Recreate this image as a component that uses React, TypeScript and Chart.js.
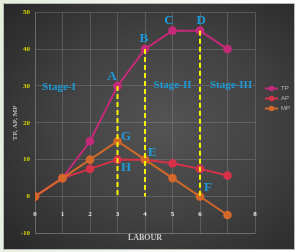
import React, { useEffect, useRef } from "react";
import { Chart, registerables } from "chart.js";
Chart.register(...registerables);

// ---- data ----
const labour = [0, 1, 2, 3, 4, 5, 6, 7];
const tp = [0, 5, 15, 30, 40, 45, 45, 40];
const ap = [0, 5, 7.5, 10, 10, 9, 7.5, 5.7];
const mp = [0, 5, 10, 15, 10, 5, 0, -5];
const seriesNames = ["TP", "AP", "MP"];
const xTicks = [0, 1, 2, 3, 4, 5, 6, 7, 8];
const yTicks = [-10, 0, 10, 20, 30, 40, 50];

// dashed guide lines (labour value, top value, down to 0)
const guideX = [3, 4, 6];
const guideTop = [30, 40, 45];

// point letters
const letters = ["A", "B", "C", "D", "G", "H", "E", "F"];
const letterX = [2.8, 3.96, 4.87, 6.04, 3.31, 3.31, 4.27, 6.29];
const letterY = [32.6, 42.8, 47.8, 47.8, 16.2, 7.8, 11.9, 2.3];

// stage labels
const stages = ["Stage-I", "Stage-II", "Stage-III"];
const stageX = [0.87, 5.0, 7.13];
const stageY = [29.6, 30.3, 30.3];

const SERIF = "'Liberation Serif', 'DejaVu Serif', serif";
const GRID = "rgba(150,150,150,0.35)";
const COLORS = ["#c42a78", "#d8324a", "#d2682a"];
const BLUE = "#1e9ad6";

function makeMarker(color: string) {
  const c = document.createElement("canvas");
  c.width = 19;
  c.height = 7;
  const g = c.getContext("2d")!;
  g.strokeStyle = color;
  g.lineWidth = 2;
  g.beginPath();
  g.moveTo(6, 3.5);
  g.lineTo(19, 3.5);
  g.stroke();
  g.fillStyle = color;
  g.beginPath();
  g.arc(12.5, 3.5, 2.8, 0, Math.PI * 2);
  g.fill();
  return c;
}

const legendShift = {
  id: "legendShift",
  afterLayout(chart: any) {
    const lg = chart.legend;
    if (lg) {
      lg.top -= 30;
      lg.bottom -= 30;
    }
  },
};

const overlayPlugin = {
  id: "overlay",
  afterDatasetsDraw(chart: any) {
    const { ctx, scales } = chart;
    const xs = scales.x;
    const ys = scales.y;
    ctx.save();
    ctx.strokeStyle = "#f5f500";
    ctx.lineWidth = 2;
    ctx.setLineDash([5, 3]);
    guideX.forEach((gx, i) => {
      const px = xs.getPixelForValue(gx);
      ctx.beginPath();
      ctx.moveTo(px, ys.getPixelForValue(guideTop[i]));
      ctx.lineTo(px, ys.getPixelForValue(0));
      ctx.stroke();
    });
    ctx.setLineDash([]);
    ctx.fillStyle = BLUE;
    ctx.textAlign = "center";
    ctx.textBaseline = "middle";
    ctx.font = `bold 13px ${SERIF}`;
    letters.forEach((t, i) => {
      ctx.fillText(t, xs.getPixelForValue(letterX[i]), ys.getPixelForValue(letterY[i]));
    });
    ctx.font = `bold 11px ${SERIF}`;
    stages.forEach((t, i) => {
      ctx.fillText(t, xs.getPixelForValue(stageX[i]), ys.getPixelForValue(stageY[i]));
    });
    ctx.restore();
  },
};

export default function App() {
  const ref = useRef<HTMLCanvasElement>(null);
  useEffect(() => {
    const markers = COLORS.map(makeMarker);
    const series = [tp, ap, mp];
    const chart = new Chart(ref.current!, {
      type: "line",
      data: {
        datasets: series.map((s, i) => ({
          label: seriesNames[i],
          data: labour.map((l, j) => ({ x: l, y: s[j] })),
          borderColor: COLORS[i],
          backgroundColor: COLORS[i],
          pointBackgroundColor: COLORS[i],
          pointBorderColor: COLORS[i],
          pointRadius: 3.3,
          borderWidth: 2,
          order: 3 - i,
        })),
      },
      options: {
        animation: false,
        responsive: false,
        maintainAspectRatio: false,
        layout: { padding: { top: 7, right: 0, left: 0, bottom: 3 } },
        plugins: {
          tooltip: { enabled: false },
          legend: {
            position: "right",
            maxWidth: 40,
            labels: {
              usePointStyle: true,
              pointStyleWidth: 19,
              padding: 4,
              color: "#b4b4b4",
              font: { size: 6, family: "'Liberation Sans', sans-serif" },
              generateLabels: (ch: any) =>
                ch.data.datasets.map((ds: any, i: number) => ({
                  text: ds.label,
                  fillStyle: ds.borderColor,
                  strokeStyle: ds.borderColor,
                  lineWidth: 0,
                  pointStyle: markers[i],
                  datasetIndex: i,
                  hidden: false,
                  fontColor: "#b4b4b4",
                })),
            },
          },
        },
        scales: {
          x: {
            type: "linear",
            min: 0,
            max: 8,
            position: "bottom",
            afterBuildTicks: (s: any) => {
              s.ticks = xTicks.map((v) => ({ value: v }));
            },
            ticks: { display: false },
            grid: { color: GRID, drawTicks: false },
            border: { color: GRID },
            title: {
              display: true,
              text: "LABOUR",
              color: "#c8c8c8",
              font: { family: SERIF, size: 8, weight: "bold" },
              padding: { top: 0, bottom: 4 },
            },
          },
          x2: {
            type: "linear",
            min: 0,
            max: 8,
            position: { y: 0 },
            afterBuildTicks: (s: any) => {
              s.ticks = xTicks.map((v) => ({ value: v }));
            },
            grid: { display: false },
            border: { display: false },
            ticks: {
              color: "#e8e8e8",
              padding: 5,
              font: { family: SERIF, size: 7, weight: "bold" },
            },
          },
          y: {
            type: "linear",
            min: -10,
            max: 50,
            afterBuildTicks: (s: any) => {
              s.ticks = yTicks.map((v) => ({ value: v }));
            },
            afterFit: (s: any) => {
              s.width = 32;
            },
            ticks: {
              color: "#d8d800",
              padding: 5,
              font: { family: SERIF, size: 7, weight: "bold" },
            },
            grid: { color: GRID, drawTicks: false },
            border: { color: GRID },
            title: {
              display: true,
              text: "TP, AP, MP",
              color: "#bcbcbc",
              font: { family: SERIF, size: 7, weight: "bold" },
              padding: { top: 8, bottom: 0 },
            },
          },
        },
      } as any,
      plugins: [legendShift, overlayPlugin],
    });
    return () => chart.destroy();
  }, []);

  return (
    <div
      style={{
        position: "fixed",
        left: 0,
        top: 0,
        width: 300,
        height: 252,
        background: "linear-gradient(100deg, #e4eedb 0%, #f4f8f0 50%, #ffffff 80%)",
      }}
    >
      <div
        style={{
          position: "absolute",
          left: 3,
          top: 3,
          width: 292,
          height: 247,
          boxSizing: "border-box",
          border: "1px solid #b8b8b8",
          background:
            "radial-gradient(ellipse 75% 75% at 55% 50%, #545454 0%, #414141 50%, #272727 100%)",
        }}
      >
        <canvas
          ref={ref}
          width={292}
          height={247}
          style={{ position: "absolute", left: -1, top: -1, width: 292, height: 247 }}
        />
      </div>
    </div>
  );
}
